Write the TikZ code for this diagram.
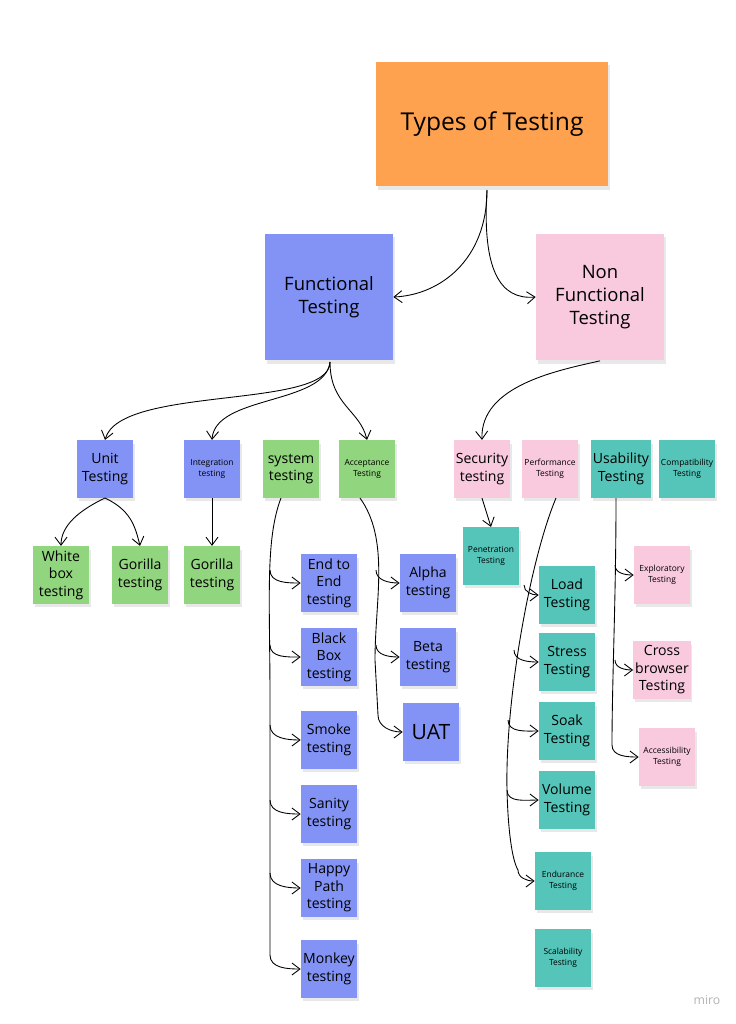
\documentclass[tikz,border=0pt]{standalone}
\usepackage{fontspec}
\setmainfont{Open Sans}
\usetikzlibrary{arrows.meta, positioning, shadows}
\definecolor{orangenote}{HTML}{FFA24F}
\definecolor{bluenote}{HTML}{8293F5}
\definecolor{pinknote}{HTML}{F9C9DD}
\definecolor{greennote}{HTML}{92D57F}
\definecolor{tealnote}{HTML}{55C5B9}
\tikzset{
  note/.style={rectangle, align=center, inner sep=1pt,
               drop shadow={opacity=0.18, shadow xshift=1pt, shadow yshift=-2pt}},
  big/.style={note, minimum width=2.56cm, minimum height=2.54cm, font=\fontsize{10.5}{13}\selectfont},
  small/.style={note, minimum width=1.12cm, minimum height=1.15cm, font=\fontsize{8}{10}\selectfont},
  tiny/.style={small, font=\fontsize{4.8}{6.2}\selectfont},
  arrow/.style={-{Straight Barb[length=1.6mm, width=2.4mm]}, black, line width=0.5pt},
  spine/.style={black, line width=0.5pt}
}
\begin{document}
\begin{tikzpicture}[x=0.02cm, y=-0.02cm]
\useasboundingbox (0,0) rectangle (736,1024);

% Root
\node[note, fill=orangenote, minimum width=4.64cm, minimum height=2.5cm,
      font=\fontsize{14}{17}\selectfont] (Types) at (492,124) {Types of Testing};

% Level 1
\node[big, fill=bluenote] (Func) at (329,297) {Functional\\Testing};
\node[big, fill=pinknote] (NonFunc) at (600,297) {Non\\Functional\\Testing};

% Level 2: functional
\node[small, fill=bluenote] (Unit) at (105,469) {Unit\\Testing};
\node[tiny, fill=bluenote] (Integ) at (212,469) {Integration\\testing};
\node[small, fill=greennote] (System) at (291,469) {system\\testing};
\node[tiny, fill=greennote] (Accept) at (367,469) {Acceptance\\Testing};

% Level 2: non functional
\node[small, fill=pinknote] (Security) at (482,469) {Security\\testing};
\node[tiny, fill=pinknote] (Perf) at (550,469) {Performance\\Testing};
\node[small, fill=tealnote] (Usab) at (621,469) {Usability\\Testing};
\node[tiny, fill=tealnote] (Compat) at (687,469) {Compatibility\\Testing};

% Level 3
\node[small, fill=greennote] (WhiteBox) at (61,575) {White\\box\\testing};
\node[small, fill=greennote] (GorillaA) at (140,575) {Gorilla\\testing};
\node[small, fill=greennote] (GorillaB) at (212,575) {Gorilla\\testing};
\node[tiny, fill=tealnote] (Penet) at (491,556) {Penetration\\Testing};

% system testing children
\node[small, fill=bluenote] (EndEnd) at (329,583) {End to\\End\\testing};
\node[small, fill=bluenote] (BlackBox) at (329,657) {Black\\Box\\testing};
\node[small, fill=bluenote] (Smoke) at (329,740) {Smoke\\testing};
\node[small, fill=bluenote] (Sanity) at (329,814) {Sanity\\testing};
\node[small, fill=bluenote] (Happy) at (329,888) {Happy\\Path\\testing};
\node[small, fill=bluenote] (Monkey) at (329,969) {Monkey\\testing};

% acceptance children
\node[small, fill=bluenote] (Alpha) at (428,583) {Alpha\\testing};
\node[small, fill=bluenote] (Beta) at (428,657) {Beta\\testing};
\node[small, fill=bluenote, font=\fontsize{12}{14}\selectfont] (UAT) at (431,732) {UAT};

% performance children
\node[small, fill=tealnote] (Load) at (567,595) {Load\\Testing};
\node[small, fill=tealnote] (Stress) at (567,662) {Stress\\Testing};
\node[small, fill=tealnote] (Soak) at (567,731) {Soak\\Testing};
\node[small, fill=tealnote] (Volume) at (567,800) {Volume\\Testing};
\node[tiny, fill=tealnote] (Endur) at (563,881) {Endurance\\Testing};
\node[tiny, fill=tealnote] (Scal) at (563,958) {Scalability\\Testing};

% usability children
\node[tiny, fill=pinknote] (Explor) at (662,575) {Exploratory\\Testing};
\node[small, fill=pinknote] (Cross) at (662,670) {Cross\\browser\\Testing};
\node[tiny, fill=pinknote] (Access) at (667,757) {Accessibility\\Testing};

\node[text=gray!60, font=\fontsize{7}{8}\selectfont] (miro) at (707,1000) {miro};

% --- Connections ---
\coordinate (TypesOut) at (487,190);
\draw[arrow] (TypesOut) .. controls (487,260) and (440,295) .. (Func.east);
\draw[arrow] (TypesOut) .. controls (482,270) and (500,300) .. (NonFunc.west);

\coordinate (FuncOut) at (330,362);
\draw[arrow] (FuncOut) .. controls (330,410) and (120,385) .. (Unit.north);
\draw[arrow] (FuncOut) .. controls (325,405) and (215,395) .. (Integ.north);
\draw[arrow] (FuncOut) .. controls (330,405) and (360,410) .. (Accept.north);

\draw[arrow] (NonFunc.south) .. controls (560,370) and (480,385) .. (Security.north);
\draw[arrow] (Security.south) -- (Penet.north);

\coordinate (UnitOut) at (105,498);
\draw[arrow] (UnitOut) .. controls (80,510) and (61,525) .. (WhiteBox.north);
\draw[arrow] (UnitOut) .. controls (130,510) and (135,525) .. (GorillaA.north);
\draw[arrow] (Integ.south) -- (GorillaB.north);

% system testing spine
\coordinate (SysTop) at (281,498);
\coordinate (SysBot) at (270,955);
\draw[spine] (SysTop) .. controls (265,540) and (270,600) .. (270,700) -- (SysBot);
\foreach \n/\y in {EndEnd/570, BlackBox/645, Smoke/725, Sanity/800, Happy/873} {
  \coordinate (s\n) at (270,\y);
  \draw[arrow] (s\n) to[out=-90, in=180] (\n.west);
}
\draw[arrow] (SysBot) to[out=-90, in=180] (Monkey.west);

% acceptance spine
\coordinate (AccTop) at (360,498);
\coordinate (AccBot) at (378,715);
\draw[spine] (AccTop) .. controls (390,540) and (375,600) .. (375,660) -- (AccBot);
\foreach \n/\y in {Alpha/570, Beta/645} {
  \coordinate (a\n) at (376,\y);
  \draw[arrow] (a\n) to[out=-90, in=180] (\n.west);
}
\draw[arrow] (AccBot) to[out=-90, in=180] (UAT.west);

% performance spine
\coordinate (PerfTop) at (556,498);
\coordinate (PerfBot) at (518,870);
\draw[spine] (PerfTop) .. controls (530,560) and (505,700) .. (507,790) .. controls (508,830) and (512,860) .. (PerfBot);
\foreach \n/\y/\x in {Load/585/524, Stress/650/514, Soak/720/508, Volume/790/507} {
  \coordinate (p\n) at (\x,\y);
  \draw[arrow] (p\n) to[out=-90, in=180] (\n.west);
}
\draw[arrow] (PerfBot) to[out=-90, in=180] (Endur.west);

% usability spine
\coordinate (UsTop) at (616,498);
\coordinate (UsBot) at (612,745);
\draw[spine] (UsTop) .. controls (616,600) and (612,680) .. (UsBot);
\foreach \n/\y in {Explor/565, Cross/660} {
  \coordinate (u\n) at (615,\y);
  \draw[arrow] (u\n) to[out=-90, in=180] (\n.west);
}
\draw[arrow] (UsBot) to[out=-90, in=180] (Access.west);
\end{tikzpicture}
\end{document}
